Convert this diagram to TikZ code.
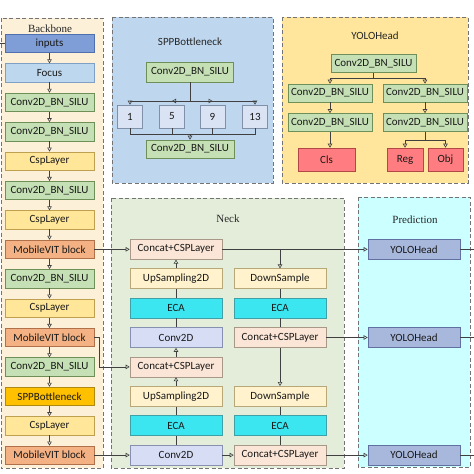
\documentclass[tikz,border=0pt]{standalone}
\usepackage{fontspec}
\setmainfont{Carlito}
\newfontfamily\seriffont{Liberation Serif}
\usetikzlibrary{arrows.meta}
\definecolor{bbfill}{HTML}{FCF0D8}
\definecolor{sppfill}{HTML}{BFD7EE}
\definecolor{headfill}{HTML}{FFE69C}
\definecolor{neckfill}{HTML}{E4EDDA}
\definecolor{predfill}{HTML}{CCFFFF}
\definecolor{inpfill}{HTML}{7F9ED8}
\definecolor{inpdraw}{HTML}{4F6FAE}
\definecolor{focfill}{HTML}{BDD7EE}
\definecolor{focdraw}{HTML}{7FA0C4}
\definecolor{convfill}{HTML}{C5E0B4}
\definecolor{convdraw}{HTML}{6E8F57}
\definecolor{cspfill}{HTML}{FFE699}
\definecolor{cspdraw}{HTML}{BFA050}
\definecolor{mvfill}{HTML}{F4B183}
\definecolor{mvdraw}{HTML}{B0704A}
\definecolor{sppbfill}{HTML}{FFC000}
\definecolor{sppbdraw}{HTML}{B08A10}
\definecolor{poolfill}{HTML}{DAE3F3}
\definecolor{pooldraw}{HTML}{8090A8}
\definecolor{outfill}{HTML}{FF7C80}
\definecolor{outdraw}{HTML}{B04848}
\definecolor{catfill}{HTML}{FBE5D6}
\definecolor{catdraw}{HTML}{A89888}
\definecolor{upfill}{HTML}{FFF2CC}
\definecolor{updraw}{HTML}{B8A878}
\definecolor{ecafill}{HTML}{3CE6F0}
\definecolor{ecadraw}{HTML}{40A0A8}
\definecolor{c2fill}{HTML}{D6DDF5}
\definecolor{c2draw}{HTML}{8890B0}
\definecolor{yhfill}{HTML}{A8B8DC}
\definecolor{yhdraw}{HTML}{6070A0}
\begin{document}
\begin{tikzpicture}[x=1pt,y=-1pt,
  container/.style={draw=black!55, line width=0.9pt, dash pattern=on 4pt off 2.5pt},
  bx/.style={draw, line width=0.6pt, minimum height=18pt, inner sep=0pt, font=\fontsize{11}{12}\selectfont, text=black!90},
  conv/.style={bx, fill=convfill, draw=convdraw},
  csp/.style={bx, fill=cspfill, draw=cspdraw},
  mv/.style={bx, fill=mvfill, draw=mvdraw},
  pool/.style={bx, fill=poolfill, draw=pooldraw, minimum width=25pt, minimum height=23pt},
  outb/.style={bx, fill=outfill, draw=outdraw, minimum height=23pt},
  cat/.style={bx, fill=catfill, draw=catdraw, minimum width=92pt, minimum height=20pt},
  up/.style={bx, fill=upfill, draw=updraw, minimum width=92pt, minimum height=20pt},
  eca/.style={bx, fill=ecafill, draw=ecadraw, minimum width=92pt, minimum height=20pt},
  cvt/.style={bx, fill=c2fill, draw=c2draw, minimum width=92pt, minimum height=20pt},
  yh/.style={bx, fill=yhfill, draw=yhdraw, minimum width=92pt, minimum height=20pt},
  bbw/.style={minimum width=89pt, minimum height=18.5pt},
  ttl/.style={font=\fontsize{11}{12}\selectfont, text=black!85},
  sttl/.style={font=\seriffont\fontsize{11}{12}\selectfont, text=black!85},
  ln/.style={draw=black!75, line width=0.6pt},
  arr/.style={ln, -{Triangle[open, length=4pt, width=4.5pt]}}
]
\useasboundingbox (0,0) rectangle (474,474);
% containers
\draw[container, fill=bbfill] (1,18) rectangle (103,468);
\draw[container, fill=sppfill] (112,17) rectangle (273,183);
\draw[container, fill=headfill] (282,17) rectangle (468,183);
\draw[container, fill=neckfill] (111,198) rectangle (344,468);
\draw[container, fill=predfill] (358,197) rectangle (470,467);
% titles
\node[sttl] (tbb) at (50,29) {Backbone};
\node[ttl] (tspp) at (190,42) {SPPBottleneck};
\node[ttl] (thead) at (375,36) {YOLOHead};
\node[sttl] (tneck) at (228,219) {Neck};
\node[sttl] (tpred) at (415,220) {Prediction};
% backbone
\node[bx, bbw, fill=inpfill, draw=inpdraw] (b0) at (49.5,43.5) {inputs};
\node[bx, bbw, fill=focfill, draw=focdraw] (b1) at (49.5,72.9) {Focus};
\node[conv, bbw] (b2) at (49.5,102.3) {Conv2D\_BN\_SILU};
\node[conv, bbw] (b3) at (49.5,131.7) {Conv2D\_BN\_SILU};
\node[csp, bbw] (b4) at (49.5,161.1) {CspLayer};
\node[conv, bbw] (b5) at (49.5,190.5) {Conv2D\_BN\_SILU};
\node[csp, bbw] (b6) at (49.5,219.9) {CspLayer};
\node[mv, bbw] (b7) at (49.5,249.3) {MobileVIT block};
\node[conv, bbw] (b8) at (49.5,278.7) {Conv2D\_BN\_SILU};
\node[csp, bbw] (b9) at (49.5,308.1) {CspLayer};
\node[mv, bbw] (b10) at (49.5,337.5) {MobileVIT block};
\node[conv, bbw] (b11) at (49.5,366.9) {Conv2D\_BN\_SILU};
\node[bx, bbw, fill=sppbfill, draw=sppbdraw] (b12) at (49.5,396.3) {SPPBottleneck};
\node[csp, bbw] (b13) at (49.5,425.7) {CspLayer};
\node[mv, bbw] (b14) at (49.5,455.1) {MobileVIT block};
\coordinate (inL) at (0,43.5);
\draw[ln] (inL) -- (b0.west);
\foreach \a/\b in {b0/b1,b1/b2,b2/b3,b3/b4,b4/b5,b5/b6,b6/b7,b7/b8,b8/b9,b9/b10,b10/b11,b11/b12,b12/b13,b13/b14}
  \draw[arr] (\a.south) -- (\b.north);
% SPP
\node[conv, minimum width=87pt, minimum height=20pt] (s0) at (190,72) {Conv2D\_BN\_SILU};
\node[pool] (p1) at (130,116.5) {1};
\node[pool] (p5) at (172,116.5) {5};
\node[pool] (p9) at (212.5,116.5) {9};
\node[pool] (p13) at (255,116.5) {13};
\node[conv, minimum width=88pt, minimum height=18pt] (s1) at (190,149) {Conv2D\_BN\_SILU};
\coordinate (st) at (190,101);
\coordinate (st5) at (172,101);
\coordinate (st9) at (212.5,101);
\coordinate (sb) at (190,134);
\coordinate (sb5) at (172,134);
\coordinate (sb9) at (212.5,134);
\draw[ln] (s0.south) -- (st);
\draw[arr] (st) -| (p1.north);
\draw[arr] (st) -| (p13.north);
\draw[arr] (st) -- (st5);
\draw[arr] (st) -- (st9);
\draw[ln] (p1.south) |- (sb);
\draw[ln] (p13.south) |- (sb);
\draw[ln] (p5.south) -- (sb5);
\draw[ln] (p9.south) -- (sb9);
\draw[arr] (sb) -- (s1.north);
% YOLOHead detail
\node[conv, minimum width=85pt] (h0) at (373.5,63.5) {Conv2D\_BN\_SILU};
\node[conv, minimum width=84pt] (h1) at (330,93) {Conv2D\_BN\_SILU};
\node[conv, minimum width=84pt] (h2) at (425,93) {Conv2D\_BN\_SILU};
\node[conv, minimum width=84pt] (h3) at (330,122.5) {Conv2D\_BN\_SILU};
\node[conv, minimum width=84pt] (h4) at (425,122.5) {Conv2D\_BN\_SILU};
\node[outb, minimum width=57pt] (cls) at (326.5,159.5) {Cls};
\node[outb, minimum width=36pt] (reg) at (405,159.5) {Reg};
\node[outb, minimum width=35pt] (obj) at (445.5,159.5) {Obj};
\coordinate (ht) at (373.5,78);
\coordinate (hb) at (425,140);
\draw[ln] (h0.south) -- (ht);
\draw[arr] (ht) -| (h1.north);
\draw[arr] (ht) -| (h2.north);
\draw[arr] (h1.south) -- (h3.north);
\draw[arr] (h2.south) -- (h4.north);
\draw[arr] (h3.south) -- (h3.south |- cls.north);
\draw[ln] (h4.south) -- (hb);
\draw[arr] (hb) -| (reg.north);
\draw[arr] (hb) -| (obj.north);
% Neck
\node[cat] (l0) at (176,249.3) {Concat+CSPLayer};
\node[up]  (l1) at (176,278.7) {UpSampling2D};
\node[eca] (l2) at (176,308.1) {ECA};
\node[cvt] (l3) at (176,337.5) {Conv2D};
\node[cat] (l4) at (176,366.9) {Concat+CSPLayer};
\node[up]  (l5) at (176,396.3) {UpSampling2D};
\node[eca] (l6) at (176,425.7) {ECA};
\node[cvt] (l7) at (176,455.1) {Conv2D};
\node[up]  (r1) at (280,278.7) {DownSample};
\node[eca] (r2) at (280,308.1) {ECA};
\node[cat] (r3) at (280,337.5) {Concat+CSPLayer};
\node[up]  (r5) at (280,396.3) {DownSample};
\node[eca] (r6) at (280,425.7) {ECA};
\node[cat] (r7) at (280,455.1) {Concat+CSPLayer};
% Prediction
\node[yh] (y1) at (414,249.3) {YOLOHead};
\node[yh] (y2) at (414,337.5) {YOLOHead};
\node[yh] (y3) at (414,455.1) {YOLOHead};
% neck connectors
\draw[arr] (b7.east) -- (l0.west);
\coordinate (m2a) at (99,337.5);
\draw[arr] (b10.east) -- (m2a) |- (l4.west);
\draw[arr] (b14.east) -- (l7.west);
\draw[arr] (l1.north) -- (l0.south);
\draw[ln] (l2.north) -- (l1.south);
\draw[ln] (l3.north) -- (l2.south);
\draw[arr] (l4.north) -- (l3.south);
\draw[arr] (l5.north) -- (l4.south);
\draw[ln] (l6.north) -- (l5.south);
\draw[ln] (l7.north) -- (l6.south);
\draw[ln] (r1.south) -- (r2.north);
\draw[ln] (r2.south) -- (r3.north);
\draw[ln] (r5.south) -- (r6.north);
\draw[ln] (r6.south) -- (r7.north);
\draw[arr] (l7.east) -- (r7.west);
\draw[arr] (l0.east) -- (y1.west);
\draw[arr] (r1.north |- l0.east) -- (r1.north);
\draw[arr] (r3.east) -- (y2.west);
\draw[arr] (r3.south) -- (r5.north);
\draw[arr] (r7.east) -- (y3.west);
\coordinate (e1) at (474,249.3);
\coordinate (e2) at (474,337.5);
\coordinate (e3) at (474,455.1);
\draw[ln] (y1.east) -- (e1);
\draw[ln] (y2.east) -- (e2);
\draw[ln] (y3.east) -- (e3);
\end{tikzpicture}
\end{document}
